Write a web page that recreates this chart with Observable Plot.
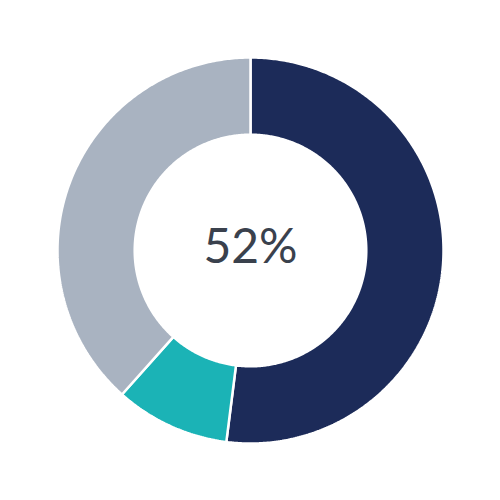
<!DOCTYPE html>
<html>
<head>
<meta charset="utf-8">
<script src="https://cdn.jsdelivr.net/npm/d3@7"></script>
<script src="https://cdn.jsdelivr.net/npm/@observablehq/plot@0.6"></script>
<style>
  html, body { margin: 0; padding: 0; background: #fff; }
  #chart { width: 500px; height: 500px; }
</style>
</head>
<body>
<div id="chart"></div>
<script>
// Data
const categories = ["A", "B", "C"];
const values = [52, 9.6, 38.4];
const colors = ["#1c2b59", "#1bb3b6", "#a9b3c1"];
const centerLabel = "52%";

// Build ring polygons (angles from d3.pie, clockwise from top)
const innerRatio = 0.6;
const pie = d3.pie().sort(null).value(d => d.value);
const arcs = pie(categories.map((c, i) => ({name: c, value: values[i]})));
const rows = [];
for (const a of arcs) {
  const n = Math.max(4, Math.ceil((a.endAngle - a.startAngle) / 0.01));
  const pts = [];
  for (let k = 0; k <= n; k++) {
    const t = a.startAngle + (a.endAngle - a.startAngle) * k / n;
    pts.push([Math.sin(t), Math.cos(t)]);
  }
  for (let k = n; k >= 0; k--) {
    const t = a.startAngle + (a.endAngle - a.startAngle) * k / n;
    pts.push([innerRatio * Math.sin(t), innerRatio * Math.cos(t)]);
  }
  pts.push(pts[0]);
  for (const [x, y] of pts) rows.push({name: a.data.name, x, y});
}

const half = 250 / 193;
const chart = Plot.plot({
  width: 500,
  height: 500,
  margin: 0,
  x: {domain: [-half, half], axis: null},
  y: {domain: [-half, half], axis: null},
  color: {domain: categories, range: colors},
  marks: [
    Plot.line(rows, {x: "x", y: "y", z: "name", fill: "name", stroke: "white", strokeWidth: 2.5, strokeLinejoin: "miter", curve: "linear"}),
    Plot.text([centerLabel], {x: () => 0, y: () => 0, dy: -3, text: d => d, fontSize: 48, fill: "#3a414d", fontFamily: "Lato", fontWeight: 400})
  ]
});
document.getElementById("chart").appendChild(chart);
</script>
</body>
</html>
